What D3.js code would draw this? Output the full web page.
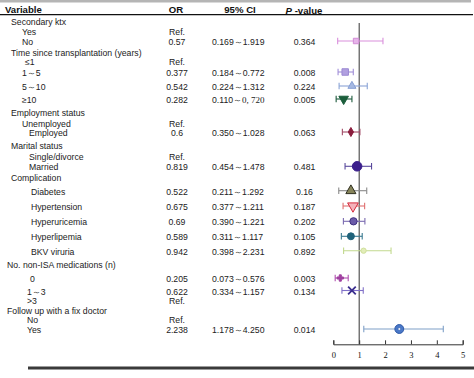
<!DOCTYPE html>
<html><head><meta charset="utf-8">
<script src="https://cdn.jsdelivr.net/npm/d3@7"></script>
<style>body{margin:0;background:#fff}svg{display:block}</style>
</head><body>
<svg id="c" width="474" height="378"></svg>
<script>
// ---- data ----
const variables = ["Secondary ktx","Yes","No","Time since transplantation (years)","≤1","1～5","5～10","≥10",
  "Employment status","Unemployed","Employed","Marital status","Single/divorce","Married","Complication",
  "Diabetes","Hypertension","Hyperuricemia","Hyperlipemia","BKV viruria","No. non-ISA medications (n)",
  "0","1～3",">3","Follow up with a fix doctor","No","Yes"];
const orText = ["","Ref.","0.57","","Ref.","0.377","0.542","0.282","","Ref.","0.6","","Ref.","0.819","",
  "0.522","0.675","0.69","0.589","0.942","","0.205","0.622","Ref.","","Ref.","2.238"];
const ciLow  = [null,null,0.169,null,null,0.184,0.224,0.110,null,null,0.350,null,null,0.454,null,
  0.211,0.377,0.390,0.311,0.398,null,0.073,0.334,null,null,null,1.178];
const ciHigh = [null,null,1.919,null,null,0.772,1.312,0.720,null,null,1.028,null,null,1.478,null,
  1.292,1.211,1.221,1.117,2.231,null,0.576,1.157,null,null,null,4.250];
const pText = ["","","0.364","","","0.008","0.224","0.005","","","0.063","","","0.481","",
  "0.16","0.187","0.202","0.105","0.892","","0.003","0.134","","","","0.014"];
// plotted marker positions
const plotEst = [null,null,0.88,null,null,0.46,0.72,0.40,null,null,0.68,null,null,0.92,null,
  0.68,0.76,0.78,0.68,1.17,null,0.27,0.72,null,null,null,2.55];
const xTicks = [0,1,2,3,4,5];

// ---- layout (not data) ----
const rowGaps = [0,10,10,11,9,11,14,13,12.7,11.3,9,12.7,11,10.6,10.4,14,15.3,15.3,15,14.4,13.3,14,12.5,9.5,10,9,10];
const indentX = [11,22,22,11,25,22,22,22,11,22,29,11,29,29,11,31,31,31,31,31,7,30,27,27,7,27,27];
const styles = {
  2:{shape:d3.symbolSquare,size:30,fill:"#e6b4e9",stroke:"#d28cd6",line:"#d98fdc"},
  5:{shape:d3.symbolSquare,size:42,fill:"#b1a0e0",stroke:"#9b88d2",line:"#a08ed8"},
  6:{shape:d3.symbolTriangle,size:28,fill:"#a6b9e3",stroke:"#88a0d4",line:"#8aa3d6"},
  7:{shape:d3.symbolTriangle,size:40,fill:"#1b5e3b",stroke:"#1b5e3b",line:"#1d5a3c",inv:true},
  10:{shape:d3.symbolDiamond,size:24,fill:"#8b1d3d",stroke:"#8b1d3d",line:"#a04a66"},
  13:{shape:d3.symbolCircle,size:72,fill:"#3b1f8c",stroke:"#3b1f8c",line:"#5a4a9c"},
  15:{shape:d3.symbolTriangle,size:44,fill:"#86845a",stroke:"#2f2f1f",line:"#8a8a8a"},
  16:{shape:d3.symbolTriangle,size:50,fill:"#f4b2ba",stroke:"#d42a3c",line:"#e07070",inv:true},
  17:{shape:d3.symbolCircle,size:42,fill:"#6a5aa8",stroke:"#3f307f",line:"#7a6ab0"},
  18:{shape:d3.symbolCircle,size:38,fill:"#20627a",stroke:"#20627a",line:"#3a7a90"},
  19:{shape:d3.symbolCircle,size:22,fill:"#e2edb8",stroke:"#cfe09c",line:"#c2d98e"},
  21:{shape:d3.symbolCross,size:22,fill:"#a040a0",stroke:"#a040a0",line:"#b050b0"},
  22:{shape:d3.symbolTimes,size:40,fill:"none",stroke:"#3b2f8f",line:"#8070c8",sw:1.8},
  26:{shape:d3.symbolCircle,size:62,fill:"#4a78c8",stroke:"#2f5aa8",line:"#7fa0c8",dot:true}
};

const svg = d3.select("#c");
const font = "'Liberation Sans', Arial, Helvetica, sans-serif";
const txt = "#222";

const cum = [];
rowGaps.reduce((a,g,i)=>{cum[i]=a+g;return a+g;},0);
const y = d3.scaleLinear().domain([0, cum[cum.length-1]]).range([22, 330]);
const x = d3.scaleLinear().domain([0,5]).range([333.3, 462.7]);

svg.append("rect").attr("x",0).attr("y",0).attr("width",471).attr("height",2.5).attr("fill","#b5b5b5");
svg.append("line").attr("x1",0).attr("x2",473).attr("y1",14.6).attr("y2",14.6).attr("stroke","#111").attr("stroke-width",1.4);

const hdr = svg.append("g").attr("font-family",font).attr("font-weight","bold").attr("font-size","9.6px").attr("fill","#111");
hdr.append("text").attr("x",5).attr("y",9.5).attr("dominant-baseline","central").text("Variable");
hdr.append("text").attr("x",176).attr("y",9.5).attr("text-anchor","middle").attr("dominant-baseline","central").text("OR");
hdr.append("text").attr("x",240).attr("y",9.5).attr("text-anchor","middle").attr("dominant-baseline","central").text("95% CI");
const pv = hdr.append("text").attr("x",304).attr("y",9.5).attr("text-anchor","middle").attr("dominant-baseline","central");
pv.append("tspan").attr("font-style","italic").text("P");
pv.append("tspan").text(" -value");

const rows = svg.append("g").attr("font-family",font).attr("font-size","8.7px").attr("fill",txt);
variables.forEach((v,i)=>{
  const yy = y(cum[i]);
  rows.append("text").attr("x",indentX[i]).attr("y",yy).attr("dominant-baseline","central").text(v);
  if (orText[i]) rows.append("text").attr("x",177).attr("y",yy).attr("text-anchor","middle").attr("dominant-baseline","central").text(orText[i]);
  if (ciLow[i]!==null) {
    const t = rows.append("text").attr("x",212).attr("y",yy).attr("dominant-baseline","central");
    if (i===7) {
      t.append("tspan").text(ciLow[i].toFixed(3)+"～");
      t.append("tspan").attr("font-family","'Liberation Serif', 'Times New Roman', serif").attr("font-size","9px").text("0, 720");
    } else {
      t.text(ciLow[i].toFixed(3)+"～"+ciHigh[i].toFixed(3));
    }
  }
  if (pText[i]) rows.append("text").attr("x",304.5).attr("y",yy).attr("text-anchor","middle").attr("dominant-baseline","central").text(pText[i]);
});

svg.append("line").attr("x1",x(1)).attr("x2",x(1)).attr("y1",23).attr("y2",344.3).attr("stroke","#333").attr("stroke-width",1);

const plot = svg.append("g");
variables.forEach((v,i)=>{
  if (plotEst[i]===null) return;
  const s = styles[i];
  const yy = y(cum[i]) - 1;
  const g = plot.append("g");
  g.append("line").attr("x1",x(ciLow[i])).attr("x2",x(ciHigh[i])).attr("y1",yy).attr("y2",yy).attr("stroke",s.line).attr("stroke-width",1.1);
  [ciLow[i],ciHigh[i]].forEach(c=>{
    g.append("line").attr("x1",x(c)).attr("x2",x(c)).attr("y1",yy-3.2).attr("y2",yy+3.2).attr("stroke",s.line).attr("stroke-width",1.1);
  });
  g.append("path").attr("d",d3.symbol().type(s.shape).size(s.size)())
    .attr("transform",`translate(${x(plotEst[i])},${yy})`+(s.inv?" rotate(180)":""))
    .attr("fill",s.fill).attr("stroke",s.stroke).attr("stroke-width",s.sw||1);
  if (s.dot) g.append("circle").attr("cx",x(plotEst[i])).attr("cy",yy).attr("r",1.3).attr("fill","#fff").attr("stroke","#2f5aa8").attr("stroke-width",0.5);
});

const ax = svg.append("g").attr("transform","translate(0,344.3)")
  .call(d3.axisBottom(x).tickValues(xTicks).tickSizeInner(-4).tickSizeOuter(-4).tickPadding(8).tickFormat(d3.format("d")));
ax.select(".domain").attr("stroke","#333");
ax.selectAll(".tick line").attr("stroke","#333");
ax.selectAll("text").attr("font-family","'Liberation Serif', 'Times New Roman', serif").attr("font-size","8.5px").attr("fill","#111");

svg.append("rect").attr("x",28).attr("y",366.5).attr("width",446).attr("height",3).attr("fill","#3a3a3a");
</script>
</body></html>
